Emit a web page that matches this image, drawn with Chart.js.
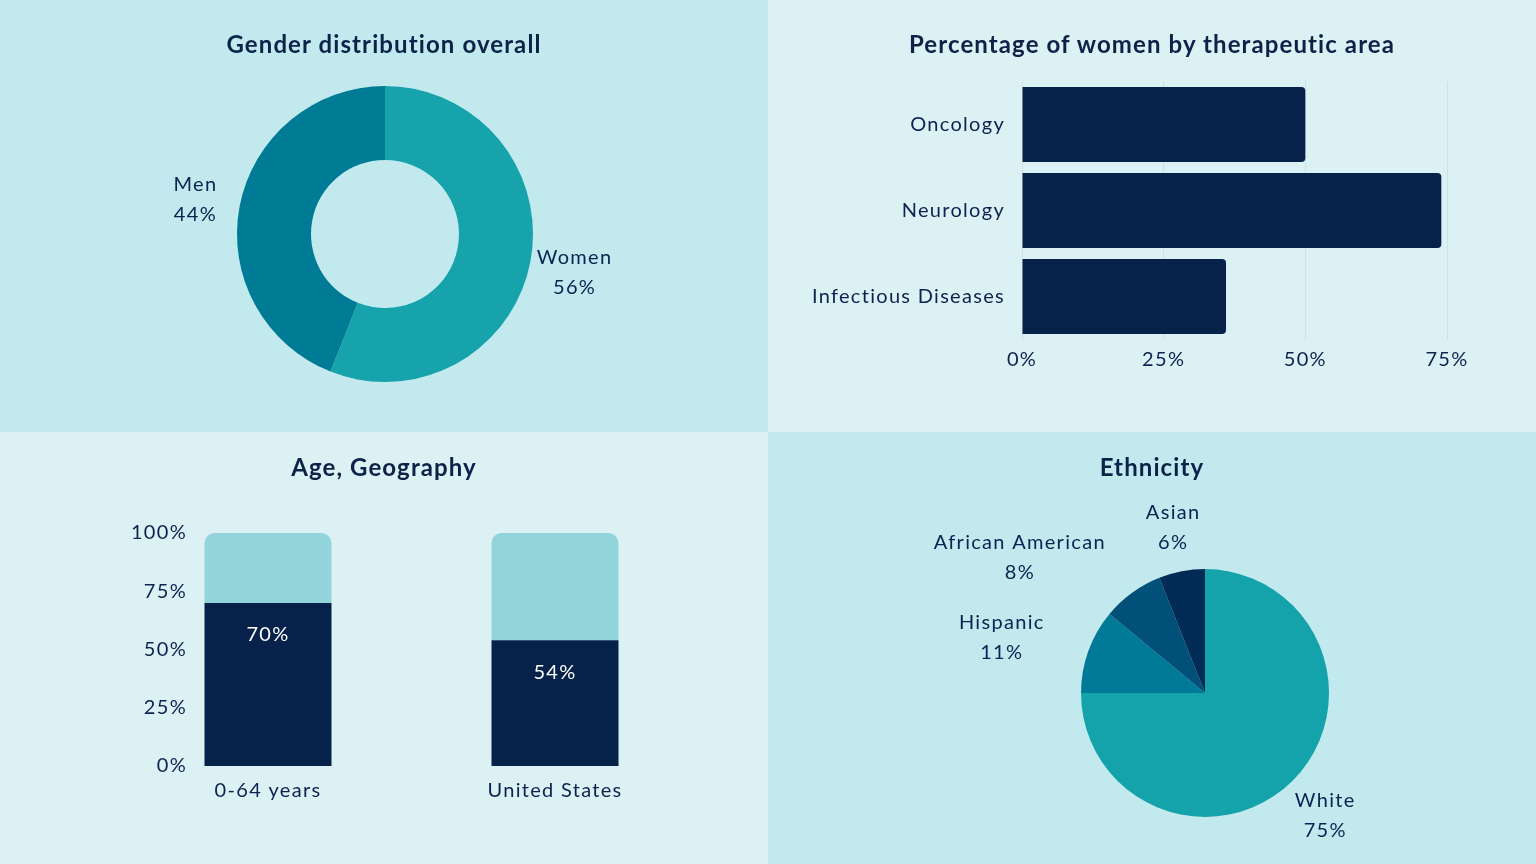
<!DOCTYPE html>
<html>
<head>
<meta charset="utf-8">
<script src="https://cdn.jsdelivr.net/npm/chart.js@4.4.1/dist/chart.umd.min.js"></script>
<style>
  html, body { margin: 0; padding: 0; width: 1536px; height: 864px; overflow: hidden; font-family: Lato, sans-serif; }
  .panel { position: absolute; width: 768px; height: 432px; }
  .panel canvas { position: absolute; left: 0; top: 0; }
  .title { position: absolute; left: 0; width: 768px; text-align: center; font-weight: 700; font-size: 24px; line-height: 30px; letter-spacing: 1.1px; color: #0b2249; }
</style>
</head>
<body>
<div class="panel" style="left:0;top:0;background:#c2e9ee"><canvas id="c1" width="768" height="432"></canvas><div class="title" style="top:29px">Gender distribution overall</div></div>
<div class="panel" style="left:768px;top:0;background:#dcf1f3"><canvas id="c2" width="768" height="432"></canvas><div class="title" style="top:29px">Percentage of women by therapeutic area</div></div>
<div class="panel" style="left:0;top:432px;background:#dcf1f3"><canvas id="c3" width="768" height="432"></canvas><div class="title" style="top:20px">Age, Geography</div></div>
<div class="panel" style="left:768px;top:432px;background:#c2e9ee"><canvas id="c4" width="768" height="432"></canvas><div class="title" style="top:20px">Ethnicity</div></div>
<script>
// ---- Data ----
const genderLabels = ['Women', 'Men'];
const genderValues = [56, 44];

const areaLabels = ['Oncology', 'Neurology', 'Infectious Diseases'];
const areaValues = [50, 74, 36];

const ageGeoLabels = ['0-64 years', 'United States'];
const ageGeoWomen = [70, 54];
const ageGeoRest = [30, 46];
const percentTicks = ['0%', '25%', '50%', '75%', '100%'];

const ethnicityLabels = ['White', 'Hispanic', 'African American', 'Asian'];
const ethnicityValues = [75, 11, 8, 6];

// ---- Styles ----
const TEXT = '#0b2350';
const FONT = 'Lato';
const LS = '1.3px';
Chart.defaults.font.family = FONT;
Chart.defaults.color = TEXT;

const spacing = {
  id: 'spacing',
  beforeUpdate(chart) { chart.ctx.letterSpacing = LS; },
  beforeDraw(chart) { chart.ctx.letterSpacing = LS; }
};

// Outer labels for pie / doughnut
const outLabels = {
  id: 'outLabels',
  afterDatasetsDraw(chart, args, o) {
    if (!o || !o.enabled) return;
    const ctx = chart.ctx;
    const meta = chart.getDatasetMeta(0);
    const labels = chart.data.labels;
    const vals = chart.data.datasets[0].data;
    ctx.save();
    ctx.letterSpacing = LS;
    ctx.font = o.size + 'px ' + FONT;
    ctx.fillStyle = o.color;
    ctx.textAlign = 'center';
    ctx.textBaseline = 'middle';
    const items = meta.data.map((arc, i) => {
      const p = arc.getProps(['x', 'y', 'startAngle', 'endAngle', 'outerRadius'], true);
      const mid = (p.startAngle + p.endAngle) / 2;
      const lines = [labels[i], vals[i] + '%'];
      const w = Math.max(...lines.map(l => ctx.measureText(l).width));
      const h = lines.length * o.lineHeight - 4;
      const dx = Math.cos(mid), dy = Math.sin(mid);
      const d = p.outerRadius + o.offset;
      return { lines, w, h, dx, dy, x: p.x, y: p.y, r: p.outerRadius, cx: p.x + dx * d, cy: p.y + dy * d };
    });
    // push labels horizontally away from the circle if they touch it
    items.forEach(it => {
      const left = it.cx - it.w / 2, right = it.cx + it.w / 2, top = it.cy - it.h / 2, bot = it.cy + it.h / 2;
      const nx = Math.max(left, Math.min(it.x, right));
      const ny = Math.max(top, Math.min(it.y, bot));
      if (Math.hypot(nx - it.x, ny - it.y) < it.r + o.margin) {
        const half = Math.sqrt(Math.max(it.r * it.r - (ny - it.y) * (ny - it.y), 0));
        if (it.dx < 0) it.cx = it.x - half - o.pad - it.w / 2;
        else it.cx = it.x + half + o.pad + it.w / 2;
      }
    });
    // resolve label-label overlaps
    for (let pass = 0; pass < 3; pass++) {
      for (let i = 0; i < items.length; i++) for (let j = 0; j < items.length; j++) {
        if (i === j) continue;
        const a = items[i], b = items[j];
        const v = Math.abs(a.cy - b.cy) < (a.h + b.h) / 2;
        const hz = Math.abs(a.cx - b.cx) < (a.w + b.w) / 2 + o.pad;
        if (v && hz && Math.abs(a.dx) > Math.abs(b.dx)) {
          if (a.cx < b.cx) a.cx = b.cx - (a.w + b.w) / 2 - o.pad;
          else a.cx = b.cx + (a.w + b.w) / 2 + o.pad;
        }
      }
    }
    items.forEach(it => {
      it.lines.forEach((l, k) => {
        const y = it.cy - (it.lines.length - 1) * o.lineHeight / 2 + k * o.lineHeight + o.yShift;
        ctx.fillText(l, it.cx, y);
      });
    });
    ctx.restore();
  }
};

// Value labels inside stacked bars
const barValueLabels = {
  id: 'barValueLabels',
  afterDatasetsDraw(chart, args, o) {
    if (!o || !o.enabled) return;
    const ctx = chart.ctx;
    const meta = chart.getDatasetMeta(0);
    const vals = chart.data.datasets[0].data;
    ctx.save();
    ctx.letterSpacing = LS;
    ctx.font = o.size + 'px ' + FONT;
    ctx.fillStyle = o.color;
    ctx.textAlign = 'center';
    ctx.textBaseline = 'middle';
    meta.data.forEach((bar, i) => {
      const p = bar.getProps(['x', 'y'], true);
      ctx.fillText(vals[i] + '%', p.x, p.y + o.offset);
    });
    ctx.restore();
  }
};
Chart.register(spacing, outLabels, barValueLabels);

const common = { responsive: false, animation: false, devicePixelRatio: 1, events: [] };

// 1. Doughnut
new Chart(document.getElementById('c1'), {
  type: 'doughnut',
  data: {
    labels: genderLabels,
    datasets: [{ data: genderValues, backgroundColor: ['#17a3ab', '#007b96'], borderWidth: 0, hoverOffset: 0 }]
  },
  options: Object.assign({}, common, {
    cutout: '50%',
    layout: { padding: { top: 86, bottom: 50, left: 2, right: 0 } },
    plugins: {
      legend: { display: false }, tooltip: { enabled: false },
      outLabels: { enabled: true, size: 20, lineHeight: 30, color: TEXT, offset: 45, pad: 40, margin: 3, yShift: 2 }
    }
  })
});

// 2. Horizontal bars
new Chart(document.getElementById('c2'), {
  type: 'bar',
  data: {
    labels: areaLabels,
    datasets: [{ data: areaValues, backgroundColor: '#06214a', borderRadius: 4, barPercentage: 0.872, categoryPercentage: 1 }]
  },
  options: Object.assign({}, common, {
    indexAxis: 'y',
    layout: { padding: { top: 81.5, bottom: 0, left: 0, right: 89 } },
    scales: {
      x: {
        min: 0, max: 75,
        ticks: { stepSize: 25, callback: v => v + '%', font: { size: 20 }, color: TEXT, padding: 8 },
        grid: { color: '#c9e4e8', drawTicks: false },
        border: { display: false },
        afterFit: s => { s.height = 92.5; }
      },
      y: {
        ticks: { font: { size: 20 }, color: TEXT, padding: 17 },
        grid: { display: false, drawTicks: false },
        border: { display: false },
        afterFit: s => { s.width = 254; }
      }
    },
    plugins: { legend: { display: false }, tooltip: { enabled: false } }
  })
});

// 3. Stacked bars
const mctx = document.createElement('canvas').getContext('2d');
mctx.font = '20px ' + FONT;
mctx.letterSpacing = LS;
const widestTick = Math.max(...percentTicks.map(t => mctx.measureText(t).width));
const plotLeft3 = 124.5;

new Chart(document.getElementById('c3'), {
  type: 'bar',
  data: {
    labels: ageGeoLabels,
    datasets: [
      { data: ageGeoWomen, backgroundColor: '#06214a', barPercentage: 0.4425, categoryPercentage: 1, borderRadius: 0 },
      { data: ageGeoRest, backgroundColor: '#92d4da', barPercentage: 0.4425, categoryPercentage: 1,
        borderRadius: { topLeft: 10, topRight: 10, bottomLeft: 0, bottomRight: 0 } }
    ]
  },
  options: Object.assign({}, common, {
    layout: { padding: { top: 101, bottom: 0, left: plotLeft3, right: 69.5 } },
    scales: {
      x: {
        stacked: true,
        ticks: { font: { size: 20 }, color: TEXT, padding: 13 },
        grid: { display: false, drawTicks: false },
        border: { display: false },
        afterFit: s => { s.height = 98; }
      },
      y: {
        stacked: true, min: 0, max: 100,
        ticks: { stepSize: 25, callback: v => percentTicks[v / 25], font: { size: 20 }, color: TEXT,
                 mirror: true, crossAlign: 'far', padding: 187 - plotLeft3 - widestTick },
        grid: { display: false, drawTicks: false },
        border: { display: false },
        afterFit: s => { s.width = 0; }
      }
    },
    plugins: {
      legend: { display: false }, tooltip: { enabled: false },
      barValueLabels: { enabled: true, size: 20, color: '#ffffff', offset: 32 }
    }
  })
});

// 4. Pie
new Chart(document.getElementById('c4'), {
  type: 'pie',
  data: {
    labels: ethnicityLabels,
    datasets: [{ data: ethnicityValues, backgroundColor: ['#15a3ab', '#007a96', '#005079', '#022b56'], borderWidth: 0, hoverOffset: 0 }]
  },
  options: Object.assign({}, common, {
    layout: { padding: { top: 137, bottom: 47, left: 106, right: 0 } },
    plugins: {
      legend: { display: false }, tooltip: { enabled: false },
      outLabels: { enabled: true, size: 20, lineHeight: 30, color: TEXT, offset: 46, pad: 40, margin: 3, yShift: 2 }
    }
  })
});
</script>
</body>
</html>
